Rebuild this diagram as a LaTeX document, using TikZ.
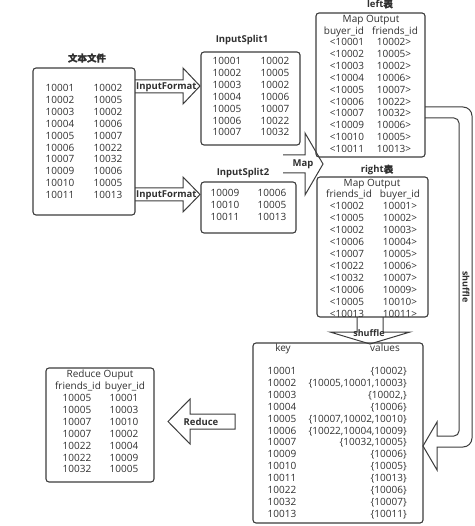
\documentclass[tikz,border=0pt]{standalone}
\usepackage{fontspec}
\setmainfont{Open Sans}
\newfontfamily\cjk[FakeBold=1.2]{Noto Sans CJK SC}
\begin{document}
\definecolor{ln}{HTML}{3C3C3C}
\definecolor{tx}{HTML}{303030}
\begin{tikzpicture}[x=1pt,y=-1pt,
  box/.style={draw=ln, line width=1.1pt, rounded corners=3pt, inner sep=0pt, outer sep=0pt},
  txt/.style={inner sep=0pt, text=tx, font=\fontsize{10}{12}\selectfont, text height=7.3pt, text depth=2.2pt},
  lbl/.style={inner sep=0pt, text=tx, font=\fontsize{9.5}{11}\selectfont\bfseries},
  arr/.style={draw=ln, line width=1pt, fill=white, line join=miter}]
\useasboundingbox (0,0) rectangle (474,526);

% block arrows (drawn first)
\draw[arr] (135,80) -- (183,80) -- (183,68) -- (200,86) -- (183,104) -- (183,93) -- (135,93);
\draw[arr] (135,188) -- (183,188) -- (183,177) -- (200,194.5) -- (183,212) -- (183,201) -- (135,201);
\draw[arr] (283,155) -- (305,155) -- (305,133) -- (323,164) -- (305,195) -- (305,173) -- (283,173);
\draw[arr] (357,317) -- (357,332) -- (330,332) -- (370,344) -- (410,332) -- (383,332) -- (383,317);
\draw[arr] (235,414) -- (190,414) -- (190,399) -- (168,421.5) -- (190,444) -- (190,429) -- (235,429) -- cycle;
\draw[arr] (425,107) -- (455,107) [rounded corners=9pt] -- (472,107) -- (472,447) -- (450,447) [sharp corners] -- (437,447)
  -- (437,470) -- (423,446) -- (437,422) -- (437,436) -- (448,436) [rounded corners=5pt] -- (459,436) -- (459,118) -- (440,118) [sharp corners] -- (425,118);

% boxes
\node[box, minimum width=102pt, minimum height=147pt] (tf) at (84,141.5) {};
\node[box, minimum width=99pt, minimum height=93pt] (is1) at (250.5,98.5) {};
\node[box, minimum width=95pt, minimum height=51pt] (is2) at (248.5,207.5) {};
\node[box, minimum width=109pt, minimum height=144pt] (lt) at (370.5,85) {};
\node[box, minimum width=111pt, minimum height=140pt] (rt) at (372.5,247) {};
\node[box, minimum width=170pt, minimum height=180pt] (sh) at (338,433) {};
\node[box, minimum width=108pt, minimum height=114pt] (ro) at (100,425) {};

% labels
\node[lbl] (tfl) at (87,58) {\cjk 文本文件};
\node[lbl] (is1l) at (242,40) {InputSplit1};
\node[lbl] (is2l) at (243,173) {InputSplit2};
\node[lbl] (ltl) at (380,4) {left{\cjk 表}};
\node[lbl] (rtl) at (377,170) {right{\cjk 表}};
\node[lbl, anchor=west] (if1) at (136,87) {InputFormat};
\node[lbl, anchor=west] (if2) at (136,195) {InputFormat};
\node[lbl] (mapl) at (303,164) {Map};
\node[lbl, font=\fontsize{9}{10}\selectfont\bfseries] (shl) at (369,333.5) {shuffle};
\node[lbl, font=\fontsize{9}{10}\selectfont\bfseries, rotate=-90] (sh2) at (466,287) {shuffle};
\node[lbl] (redl) at (201,422) {Reduce};

% text file
\foreach \a/\b [count=\i from 0] in {10001/10002,10002/10005,10003/10002,10004/10006,10005/10007,10006/10022,10007/10032,10009/10006,10010/10005,10011/10013}{
  \node[txt] (tfa\i) at (60,89+11.9*\i) {\a};
  \node[txt] (tfb\i) at (108,89+11.9*\i) {\b};
  \node[txt] (lta\i) at (347,43+11.9*\i) {<\a};
  \node[txt] (ltb\i) at (394,43+11.9*\i) {\b>};
}
\foreach \a/\b [count=\i from 0] in {10001/10002,10002/10005,10003/10002,10004/10006,10005/10007,10006/10022,10007/10032}{
  \node[txt] (is1a\i) at (227,62+11.9*\i) {\a};
  \node[txt] (is1b\i) at (275,62+11.9*\i) {\b};
}
\foreach \a/\b [count=\i from 0] in {10009/10006,10010/10005,10011/10013}{
  \node[txt] (is2a\i) at (225,194+12.2*\i) {\a};
  \node[txt] (is2b\i) at (272,194+12.2*\i) {\b};
}
% left map output header
\node[txt] (ltt) at (371,20) {Map Output};
\node[txt] (lth1) at (344,32) {buyer\_id};
\node[txt] (lth2) at (395,32) {friends\_id};
% right map output
\node[txt] (rtt) at (372,184) {Map Output};
\node[txt] (rth1) at (349,195) {friends\_id};
\node[txt] (rth2) at (400,195) {buyer\_id};
\foreach \a/\b [count=\i from 0] in {10002/10001,10005/10002,10002/10003,10006/10004,10007/10005,10022/10006,10032/10007,10006/10009,10005/10010,10013/10011}{
  \node[txt] (rta\i) at (347,206.5+12.05*\i) {<\a};
  \node[txt] (rtb\i) at (400,206.5+12.05*\i) {\b>};
}
% shuffle result
\node[txt] (shk) at (283,349) {key};
\node[txt] (shv) at (385,349) {values};
\foreach \a/\b [count=\i from 0] in {10001/{\{10002\}},10002/{\{10005,10001,10003\}},10003/{\{10002,\}},10004/{\{10006\}},10005/{\{10007,10002,10010\}},10006/{\{10022,10004,10009\}},10007/{\{10032,10005\}},10009/{\{10006\}},10010/{\{10005\}},10011/{\{10013\}},10022/{\{10006\}},10032/{\{10007\}},10013/{\{10011\}}}{
  \node[txt] (ska\i) at (282,372+11.9*\i) {\a};
  \node[txt, anchor=east] (skb\i) at (407,372+11.9*\i) {\b};
}
% reduce output
\node[txt] (rot) at (100,375) {Reduce Ouput};
\node[txt] (roh1) at (78,387) {friends\_id};
\node[txt] (roh2) at (125,387) {buyer\_id};
\foreach \a/\b [count=\i from 0] in {10005/10001,10005/10003,10007/10010,10007/10002,10022/10004,10022/10009,10032/10005}{
  \node[txt] (roa\i) at (77,399+11.9*\i) {\a};
  \node[txt] (rob\i) at (124,399+11.9*\i) {\b};
}
\end{tikzpicture}
\end{document}
